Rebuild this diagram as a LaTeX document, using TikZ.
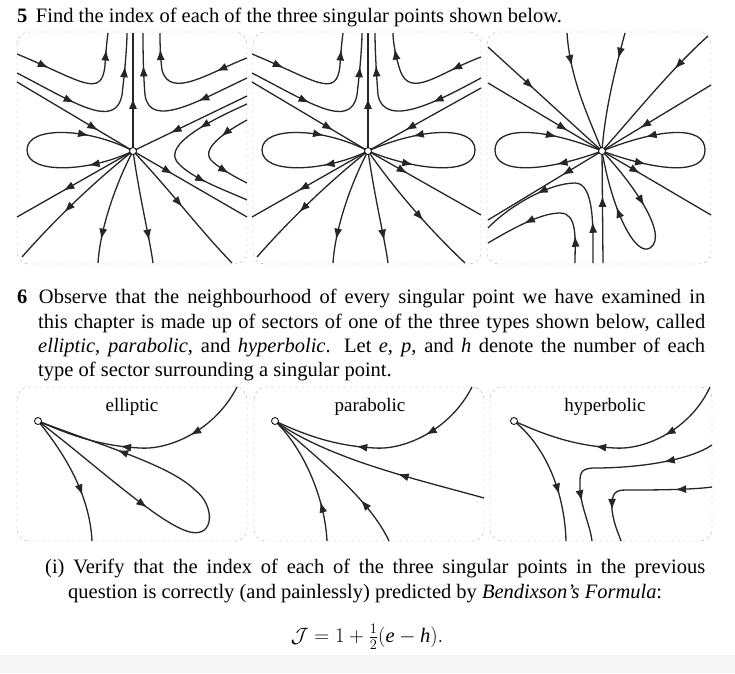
\documentclass[tikz,border=0pt]{standalone}
\usepackage{fontspec}
\setmainfont{Liberation Serif}
\usetikzlibrary{decorations.markings,arrows.meta}
\tikzset{
  ar/.style={postaction={decorate,decoration={markings,mark=at position #1 with {\arrow{Latex[length=11pt,width=8pt]}}}}},
  fl/.style={line width=1.3pt,draw=black!85},
  panel/.style={draw=gray!60,dashed,line width=0.4pt,rounded corners=12pt},
  sp/.style={circle,draw,fill=white,line width=0.8pt,inner sep=0pt,minimum size=7pt},
  txt/.style={inner sep=0pt,anchor=base west,font=\fontsize{20.5}{24}\selectfont}
}
\newcommand{\lefthalf}{%
  \draw[fl,ar=0.25,ar=0.88] (17,54) .. controls (80,80) and (102,100) .. (105,65) .. controls (106,50) and (107,40) .. (108,33);
  \draw[fl,ar=0.35,ar=0.82] (17,73) .. controls (75,103) and (115,130) .. (122,95) .. controls (125,70) and (127,45) .. (127,33);
  \draw[fl,ar=0.7] (17,82) -- (C);
  \draw[fl,ar=0.45] (C) -- (133,33);
  \draw[fl,ar=0.2,ar=0.8] (C) .. controls (90,172) and (27,175) .. (27,150) .. controls (27,125) and (90,128) .. (C);
  \draw[fl,ar=0.6] (C) -- (17,217);
  \draw[fl,ar=0.6] (C) .. controls (90,185) and (50,225) .. (22,257);
  \draw[fl,ar=0.8] (C) .. controls (115,185) and (100,230) .. (98,263);
  \draw[fl,ar=0.8] (C) .. controls (140,200) and (150,240) .. (153,263);
}
\begin{document}
\begin{tikzpicture}[x=1pt,y=-1pt]
\useasboundingbox (0,0) rectangle (735,673);
\fill[white] (0,0) rectangle (735,673);
\fill[gray!7] (0,655) rectangle (735,673);
% texts
\node[txt] (t5) at (17,22) {\textbf{5}\, Find the index of each of the three singular points shown below.};
\node[txt] (t6a) at (17,303) {\makebox[688pt][s]{\textbf{6}\, Observe that the neighbourhood of every singular point we have examined in}};
\node[txt] (t6b) at (38,328) {\makebox[667pt][s]{this chapter is made up of sectors of one of the three types shown below, called}};
\node[txt] (t6c) at (38,352) {\makebox[667pt][s]{\textit{elliptic}, \textit{parabolic}, and \textit{hyperbolic}. Let \textit{e}, \textit{p}, and \textit{h} denote the number of each}};
\node[txt] (t6d) at (38,376) {type of sector surrounding a singular point.};
\node[txt] (ti1) at (45,573) {\makebox[660pt][s]{(i) Verify that the index of each of the three singular points in the previous}};
\node[txt] (ti2) at (68,598) {question is correctly (and painlessly) predicted by \textit{Bendixson's Formula}:};
\node[txt,anchor=center] (fm) at (367,637) {$\mathcal{J}=1+\frac{1}{2}(\textit{e}-\textit{h}).$};
% panels
\draw[panel] (17,32) rectangle (247,264);
\draw[panel] (253,32) rectangle (481,264);
\draw[panel] (487,32) rectangle (711,264);
\draw[panel] (17,387) rectangle (247,541);
\draw[panel] (254,387) rectangle (484,541);
\draw[panel] (490,387) rectangle (712,541);
% panel 1
\begin{scope}
\coordinate (C) at (133,151);
\lefthalf
\draw[fl,ar=0.25,ar=0.88] (247,58) .. controls (210,72) and (170,100) .. (162,70) .. controls (160,55) and (160,40) .. (160,33);
\draw[fl,ar=0.3,ar=0.82] (247,78) .. controls (200,100) and (150,130) .. (145,95) .. controls (143,70) and (143,45) .. (143,33);
\draw[fl,ar=0.67] (247,96) -- (C);
\draw[fl,ar=0.3,ar=0.75] (247,104) .. controls (200,125) and (160,148) .. (180,165) .. controls (195,180) and (230,192) .. (247,200);
\draw[fl,ar=0.3,ar=0.8] (247,120) .. controls (225,132) and (198,150) .. (213,162) .. controls (222,170) and (237,178) .. (247,183);
\draw[fl,ar=0.35] (C) -- (247,217);
\draw[fl,ar=0.5] (C) .. controls (170,190) and (200,230) .. (232,263);
\node[sp] (s1) at (C) {};
\end{scope}
% panel 2
\begin{scope}[shift={(235,0)}]
\coordinate (C) at (133,151);
\lefthalf
\end{scope}
\begin{scope}
\coordinate (C) at (368,151);
\draw[fl,ar=0.25,ar=0.88] (481,57) .. controls (440,72) and (410,100) .. (400,70) .. controls (395,55) and (393,40) .. (393,33);
\draw[fl,ar=0.3,ar=0.82] (481,78) .. controls (440,100) and (385,130) .. (378,95) .. controls (376,70) and (375,45) .. (375,33);
\draw[fl,ar=0.67] (481,88) -- (C);
\draw[fl,ar=0.2,ar=0.8] (C) .. controls (420,172) and (475,175) .. (475,150) .. controls (475,125) and (420,128) .. (C);
\draw[fl,ar=0.35] (C) -- (481,215);
\draw[fl,ar=0.6] (C) .. controls (395,190) and (430,230) .. (465,263);
\node[sp] (s2) at (C) {};
\end{scope}
% panel 3
\begin{scope}
\coordinate (D) at (602,151);
\draw[fl,ar=0.2,ar=0.8] (D) .. controls (545,172) and (495,175) .. (495,150) .. controls (495,125) and (545,128) .. (D);
\draw[fl,ar=0.2,ar=0.8] (D) .. controls (660,172) and (705,175) .. (705,150) .. controls (705,125) and (660,128) .. (D);
\draw[fl,ar=0.4] (488,47) -- (D);
\draw[fl,ar=0.27] (567,33) .. controls (570,80) and (590,120) .. (D);
\draw[fl,ar=0.22] (625,33) .. controls (615,70) and (605,110) .. (D);
\draw[fl,ar=0.3] (708,36) .. controls (670,70) and (630,120) .. (D);
\draw[fl,ar=0.7] (488,83) -- (D);
\draw[fl,ar=0.65] (711,85) -- (D);
\draw[fl,ar=0.35] (D) -- (488,220);
\draw[fl,ar=0.22,ar=0.68] (593,263) .. controls (593,230) and (595,183) .. (575,183) .. controls (550,183) and (510,205) .. (488,228);
\draw[fl,ar=0.2,ar=0.7] (575,263) .. controls (575,240) and (578,213) .. (560,213) .. controls (540,213) and (510,230) .. (488,243);
\draw[fl,ar=0.6] (603,263) -- (D);
\draw[fl,ar=0.3,ar=0.75] (D) .. controls (630,180) and (670,235) .. (650,248) .. controls (635,257) and (612,210) .. (D);
\draw[fl,ar=0.35] (D) -- (711,215);
\node[sp] (s3) at (D) {};
\end{scope}
% bottom panels
\node[txt,anchor=center,font=\fontsize{19}{22}\selectfont] (le) at (132,407) {elliptic};
\node[txt,anchor=center,font=\fontsize{19}{22}\selectfont] (lp) at (370,407) {parabolic};
\node[txt,anchor=center,font=\fontsize{19}{22}\selectfont] (lh) at (605,407) {hyperbolic};
\coordinate (E) at (38,421);
\draw[fl,ar=0.3,ar=0.62] (237,387) .. controls (215,430) and (170,450) .. (140,448) .. controls (100,446) and (70,435) .. (E);
\draw[fl,ar=0.33,ar=0.8] (E) .. controls (90,460) and (160,525) .. (190,532) .. controls (215,538) and (215,505) .. (195,490) .. controls (170,465) and (100,445) .. (E);
\draw[fl,ar=0.65] (E) .. controls (70,460) and (90,500) .. (92,541);
\node[sp] (e0) at (E) {};
\coordinate (F) at (275,421);
\draw[fl,ar=0.3,ar=0.62] (472,387) .. controls (450,430) and (405,450) .. (375,448) .. controls (335,446) and (305,435) .. (F);
\draw[fl,ar=0.4] (484,498) .. controls (420,480) and (330,460) .. (F);
\draw[fl,ar=0.3] (327,541) .. controls (325,500) and (305,450) .. (F);
\draw[fl,ar=0.3] (389,541) .. controls (370,500) and (320,460) .. (F);
\node[sp] (f0) at (F) {};
\coordinate (G) at (514,421);
\draw[fl,ar=0.3,ar=0.62] (710,387) .. controls (690,430) and (645,450) .. (615,448) .. controls (575,446) and (545,435) .. (G);
\draw[fl,ar=0.65] (G) .. controls (550,450) and (565,500) .. (566,541);
\draw[fl,ar=0.25,ar=0.8] (712,445) .. controls (690,460) and (640,468) .. (595,468) .. controls (578,468) and (580,475) .. (580,490) .. controls (582,510) and (590,525) .. (592,541);
\draw[fl,ar=0.25,ar=0.78] (712,487) .. controls (690,490) and (650,490) .. (625,490) .. controls (612,490) and (612,497) .. (612,510) .. controls (614,525) and (618,532) .. (621,541);
\node[sp] (g0) at (G) {};
\end{tikzpicture}
\end{document}
